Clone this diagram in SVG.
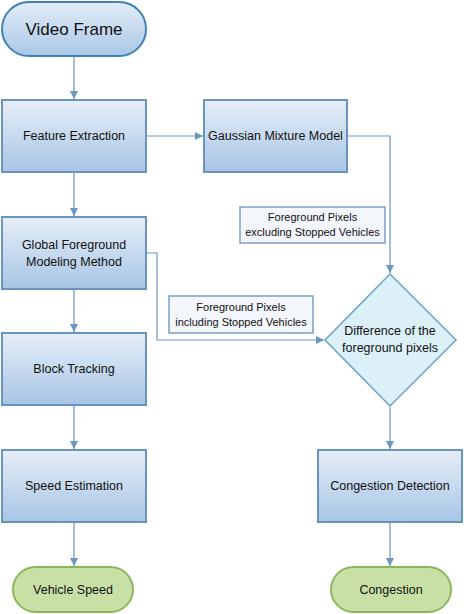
<svg xmlns="http://www.w3.org/2000/svg" width="464" height="614" viewBox="0 0 464 614">
<style>
text{font-family:"Liberation Sans",Arial,sans-serif;fill:#111;text-anchor:middle;dominant-baseline:central}
.box{fill:url(#g);stroke:#6a93bd;stroke-width:2}
.term{fill:url(#g2);stroke:#3f82b4;stroke-width:2}
.green{fill:#c8e0a6;stroke:#8bb75a;stroke-width:2}
.lbl{fill:#f3f6fb;stroke:#7d9fc6;stroke-width:1.5}
.dia{fill:#dcf0f8;stroke:#6a9fcc;stroke-width:1.5}
.c{fill:none;stroke:#6a96c0;stroke-width:1.2}
.t{font-size:12.5px}
.s{font-size:11px}
</style>
<defs>
<linearGradient id="g" x1="0" y1="0" x2="0" y2="1"><stop offset="0" stop-color="#e6eef8"/><stop offset="1" stop-color="#a7c5e5"/></linearGradient>
<linearGradient id="g2" x1="0" y1="0" x2="0" y2="1"><stop offset="0" stop-color="#e4edf8"/><stop offset="1" stop-color="#a9c7e6"/></linearGradient>
<marker id="a" viewBox="0 0 10 10" refX="10" refY="5" markerWidth="8" markerHeight="8" markerUnits="userSpaceOnUse" orient="auto"><path d="M0,0L10,5L0,10z" fill="#6a96c0"/></marker>
</defs>
<g id="connectors">
<path class="c" d="M74,57V99" marker-end="url(#a)"/>
<path class="c" d="M147,136H203" marker-end="url(#a)"/>
<path class="c" d="M348,136H390V273" marker-end="url(#a)"/>
<path class="c" d="M74,173V216" marker-end="url(#a)"/>
<path class="c" d="M147,253H157V340H324" marker-end="url(#a)"/>
<path class="c" d="M74,290V332" marker-end="url(#a)"/>
<path class="c" d="M74,406V449" marker-end="url(#a)"/>
<path class="c" d="M74,523V566" marker-end="url(#a)"/>
<path class="c" d="M390,407V449" marker-end="url(#a)"/>
<path class="c" d="M390,523V566" marker-end="url(#a)"/>
</g>
<g id="video-frame"><rect class="term" x="2" y="2" width="144" height="54" rx="27"/><text x="74" y="29" style="font-size:17px">Video Frame</text></g>
<g id="feature-extraction"><rect class="box" x="2" y="100" width="144" height="72"/><text class="t" x="74" y="136">Feature Extraction</text></g>
<g id="gmm"><rect class="box" x="204" y="100" width="143" height="72"/><text class="t" x="275.5" y="136">Gaussian Mixture Model</text></g>
<g id="global-foreground"><rect class="box" x="2" y="217" width="144" height="72"/><text class="t" x="74" y="245">Global Foreground</text><text class="t" x="74" y="262">Modeling Method</text></g>
<g id="block-tracking"><rect class="box" x="2" y="333" width="144" height="72"/><text class="t" x="74" y="369">Block Tracking</text></g>
<g id="speed-estimation"><rect class="box" x="2" y="450" width="144" height="72"/><text class="t" x="74" y="486">Speed Estimation</text></g>
<g id="vehicle-speed"><rect class="green" x="13" y="567" width="120" height="45" rx="22.5"/><text class="t" x="73" y="589.5">Vehicle Speed</text></g>
<g id="label-excluding"><rect class="lbl" x="240" y="207" width="145" height="36"/><text class="s" x="312.5" y="217">Foreground Pixels</text><text class="s" x="312.5" y="232">excluding Stopped Vehicles</text></g>
<g id="label-including"><rect class="lbl" x="169" y="296" width="144" height="37"/><text class="s" x="241" y="306.5">Foreground Pixels</text><text class="s" x="241" y="321.5">including Stopped Vehicles</text></g>
<g id="difference"><path class="dia" d="M390,274L456,340L390,406L325,340Z"/><text class="t" x="390" y="331">Difference of the</text><text class="t" x="390" y="348">foreground pixels</text></g>
<g id="congestion-detection"><rect class="box" x="318" y="450" width="144" height="72"/><text class="t" x="390" y="486">Congestion Detection</text></g>
<g id="congestion"><rect class="green" x="331" y="567" width="120" height="45" rx="22.5"/><text class="t" x="391" y="589.5">Congestion</text></g>
</svg>
